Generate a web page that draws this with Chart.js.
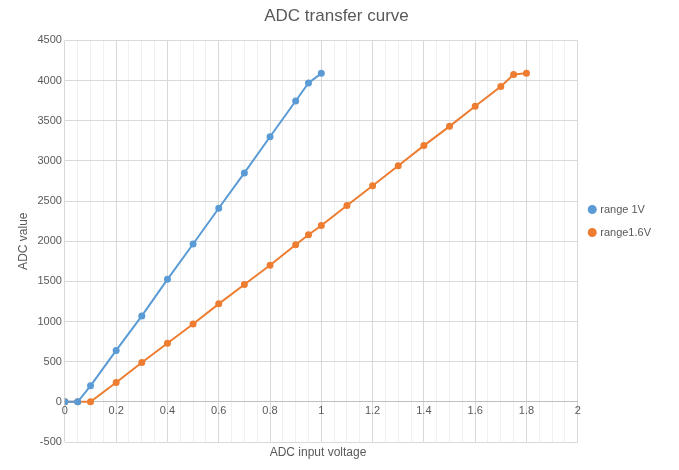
<!DOCTYPE html>
<html>
<head>
<meta charset="utf-8">
<script src="https://cdn.jsdelivr.net/npm/chart.js@4"></script>
<style>
  body { margin: 0; background: #fff; font-family: "Liberation Sans", Arial, sans-serif; }
  #wrap { position: relative; width: 679px; height: 470px; }
  #xtitle { position: absolute; left: 0; width: 636px; top: 445px; text-align: center; font-size: 12px; color: #595959; }
</style>
</head>
<body>
<div id="wrap">
  <canvas id="myChart" width="679" height="470"></canvas>
  <div id="xtitle">ADC input voltage</div>
</div>
<script>
// data
const voltage1 = [0, 0.05, 0.1, 0.2, 0.3, 0.4, 0.5, 0.6, 0.7, 0.8, 0.9, 0.95, 1.0];
const adc1 = [0, 0, 200, 640, 1070, 1525, 1965, 2410, 2850, 3300, 3745, 3970, 4090];

const voltage2 = [0, 0.05, 0.1, 0.2, 0.3, 0.4, 0.5, 0.6, 0.7, 0.8, 0.9, 0.95, 1.0, 1.1, 1.2, 1.3, 1.4, 1.5, 1.6, 1.7, 1.75, 1.8];
const adc2 = [0, 0, 0, 240, 490, 730, 970, 1220, 1460, 1700, 1955, 2080, 2195, 2445, 2690, 2940, 3190, 3430, 3680, 3925, 4075, 4090];

function pts(xs, ys) {
    return xs.map((x, i) => ({ x: x, y: ys[i] }));
}

const isMajor = v => Math.abs(v * 5 - Math.round(v * 5)) < 1e-6;

const ctx = document.getElementById('myChart').getContext('2d');

new Chart(ctx, {
    type: 'line',
    data: {
        datasets: [
            {
                label: 'range 1V',
                data: pts(voltage1, adc1),
                borderColor: '#5b9bd5',
                backgroundColor: '#5b9bd5',
                borderWidth: 2,
                pointRadius: 2.5,
                tension: 0
            },
            {
                label: 'range1.6V',
                data: pts(voltage2, adc2),
                borderColor: '#ed7d31',
                backgroundColor: '#ed7d31',
                borderWidth: 2,
                pointRadius: 2.5,
                tension: 0
            }
        ]
    },
    options: {
        responsive: false,
        animation: false,
        layout: { padding: { top: 0, right: 18, bottom: 28, left: 12 } },
        plugins: {
            title: {
                display: true,
                text: 'ADC transfer curve',
                color: '#595959',
                font: { size: 17, weight: 'normal', family: '"Liberation Sans", Arial' },
                padding: { top: 6, bottom: 14 }
            },
            legend: {
                position: 'right',
                labels: {
                    usePointStyle: true,
                    pointStyle: 'circle',
                    boxWidth: 5,
                    boxHeight: 5,
                    color: '#595959',
                    font: { size: 11 },
                    padding: 12
                }
            },
            tooltip: { enabled: false }
        },
        scales: {
            x: {
                type: 'linear',
                position: { y: 0 },
                min: 0,
                max: 2,
                ticks: {
                    stepSize: 0.05,
                    autoSkip: false,
                    maxRotation: 0,
                    color: '#595959',
                    font: { size: 11 },
                    callback: v => isMajor(v) ? String(Math.round(v * 10) / 10) : ''
                },
                grid: {
                    color: c => isMajor(c.tick.value) ? '#d9d9d9' : '#f0f0f0',
                    drawTicks: false
                },
                border: { color: '#bfbfbf' }
            },
            y: {
                min: -500,
                max: 4500,
                ticks: { stepSize: 500, color: '#595959', font: { size: 11 }, callback: v => String(v) },
                title: { display: true, text: 'ADC value', color: '#595959', font: { size: 12 } },
                grid: { color: '#d9d9d9', drawTicks: false },
                border: { display: false }
            }
        }
    }
});
</script>
</body>
</html>
